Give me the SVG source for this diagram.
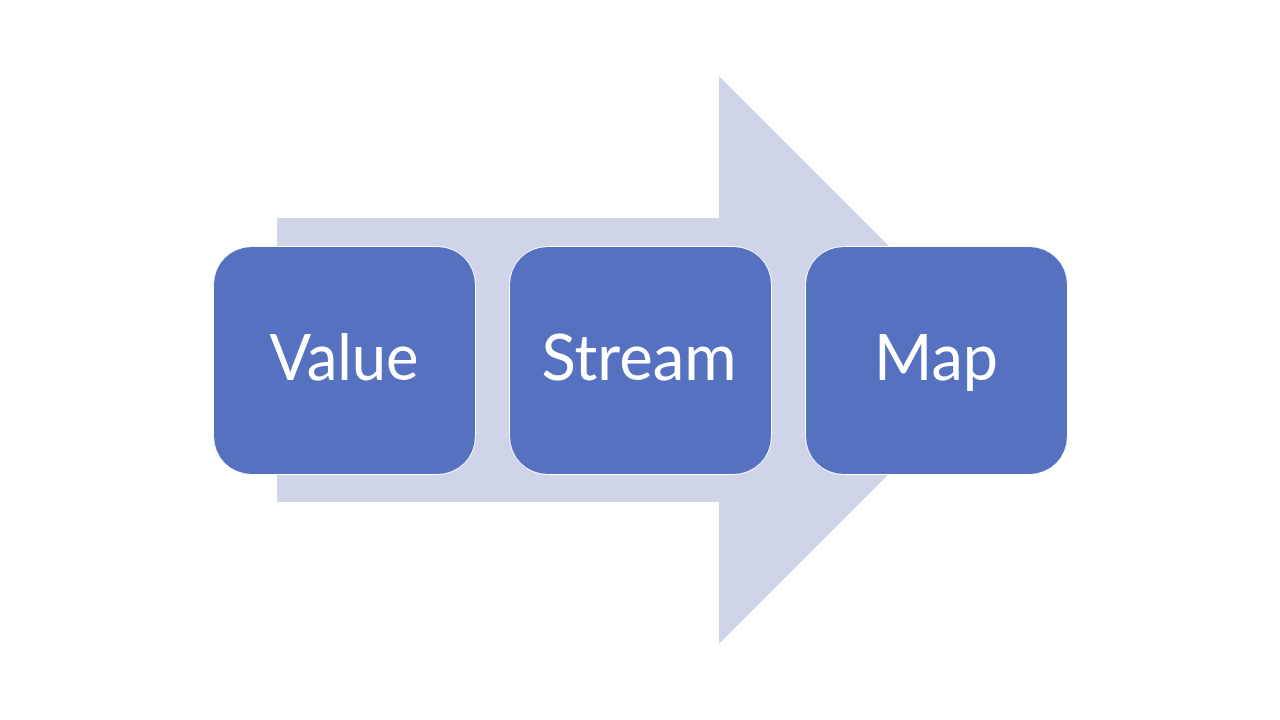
<svg xmlns="http://www.w3.org/2000/svg" width="1280" height="720" viewBox="0 0 1280 720">
<style>
.box{fill:#5571bf;stroke:#fff;stroke-width:1}
.lbl{font-family:Lato,"Open Sans","Liberation Sans",sans-serif;font-size:64px;fill:#fff;text-anchor:middle}
</style>
<rect width="1280" height="720" fill="#fff"/>
<g id="arrow"><polygon points="277,218 719,218 719,76 1003,360 719,644 719,502 277,502" fill="#cfd4e9"/></g>
<g id="connectors"/>
<g id="node-value"><rect class="box" x="213.500" y="246.500" width="262" height="228" rx="38"/><text class="lbl" x="344" y="380" textLength="149" lengthAdjust="spacingAndGlyphs">Value</text></g>
<g id="node-stream"><rect class="box" x="509.500" y="246.500" width="262" height="228" rx="38"/><text class="lbl" x="639" y="380" textLength="195" lengthAdjust="spacingAndGlyphs">Stream</text></g>
<g id="node-map"><rect class="box" x="805.500" y="246.500" width="262" height="228" rx="38"/><text class="lbl" x="936" y="380" textLength="124" lengthAdjust="spacingAndGlyphs">Map</text></g>
</svg>
